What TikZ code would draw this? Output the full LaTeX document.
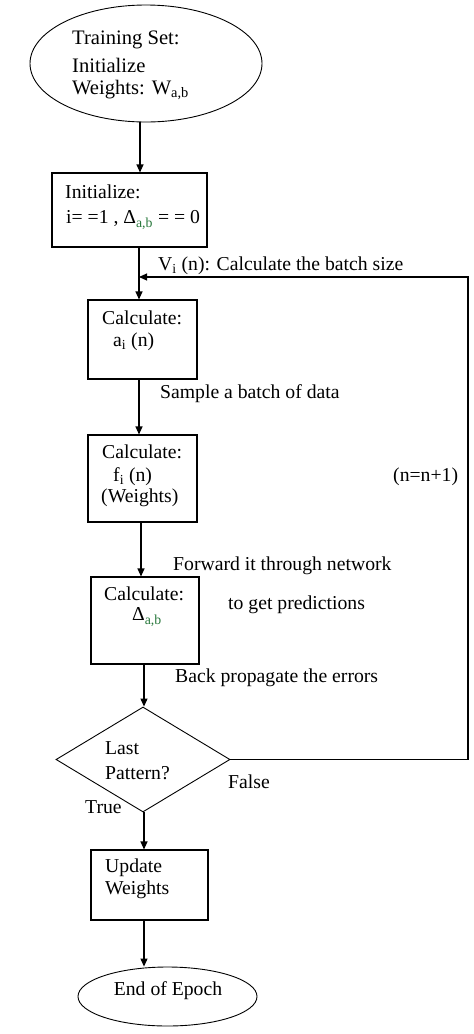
\documentclass[tikz,border=0pt]{standalone}
\usepackage{fontspec}
\setmainfont{Liberation Serif}
\usetikzlibrary{shapes.geometric,arrows.meta}
\definecolor{subgreen}{RGB}{40,120,60}
\tikzset{
  boxnode/.style={draw, line width=1.1pt, inner sep=0pt},
  ovalnode/.style={draw, ellipse, line width=0.9pt, inner sep=0pt},
  decnode/.style={draw, diamond, line width=0.9pt, inner sep=0pt},
  txt/.style={anchor=west, inner sep=0pt},
  bigtxt/.style={txt, font=\fontsize{20.6}{24}\selectfont},
  arr/.style={line width=1.1pt, -{Triangle[length=8pt,width=7pt]}},
  loopline/.style={line width=1.4pt}
}
\begin{document}
\begin{tikzpicture}[x=1pt,y=-1pt,font=\fontsize{19.7}{23}\selectfont]
\useasboundingbox (0,0) rectangle (474,1034);
% shapes
\node[ovalnode, minimum width=232pt, minimum height=117pt] (start) at (146,63.5) {};
\node[boxnode, minimum width=155pt, minimum height=74pt] (init) at (129.5,210) {};
\node[boxnode, minimum width=109pt, minimum height=79pt] (c1) at (142.5,339.5) {};
\node[boxnode, minimum width=109pt, minimum height=87pt] (c2) at (142.5,478.5) {};
\node[boxnode, minimum width=108pt, minimum height=87pt] (c3) at (145,620.5) {};
\node[decnode, minimum width=174pt, minimum height=105pt] (dec) at (143,759.5) {};
\node[boxnode, minimum width=117pt, minimum height=70pt] (upd) at (149.5,885) {};
\node[ovalnode, minimum width=179pt, minimum height=59pt] (stop) at (167.5,996.5) {};
% texts in shapes
\node[bigtxt] (t1) at (72,40) {Training Set:};
\node[bigtxt] (t2) at (72,65) {Initialize};
\node[bigtxt] (t3) at (72,90) {Weights: W\textsubscript{a,b}};
\node[txt] (i1) at (65,192) {Initialize:};
\node[txt] (i2) at (66,220) {i= =1 , Δ\textsubscript{\textcolor{subgreen}{a,b}} = = 0};
\node[txt] (c1a) at (102,318) {Calculate:};
\node[txt] (c1b) at (113,342) {a\textsubscript{i} (n)};
\node[txt] (c2a) at (102,452) {Calculate:};
\node[txt] (c2b) at (113,477) {f\textsubscript{i} (n)};
\node[txt] (c2c) at (101,498) {(Weights)};
\node[txt] (c3a) at (104,594) {Calculate:};
\node[txt] (c3b) at (132,617) {Δ\textsubscript{\textcolor{subgreen}{a,b}}};
\node[txt] (d1) at (105,748) {Last};
\node[txt] (d2) at (105,773) {Pattern?};
\node[txt] (u1) at (105,868) {Update};
\node[txt] (u2) at (105,890) {Weights};
\node[inner sep=0pt] (e1) at (168,991) {End of Epoch};
% labels
\node[txt] (l1) at (158,266) {V\textsubscript{i} (n): Calculate the batch size};
\node[txt] (l2) at (160,394) {Sample a batch of data};
\node[txt] (l3) at (393,477) {(n=n+1)};
\node[txt] (l4) at (173,566) {Forward it through network};
\node[txt] (l5) at (228,605) {to get predictions};
\node[txt] (l6) at (175,678) {Back propagate the errors};
\node[txt] (l7) at (228,782) {False};
\node[txt] (l8) at (85,807) {True};
% connector x positions
\coordinate (xa) at (140,0);
\coordinate (xb) at (139,0);
\coordinate (xc) at (141,0);
\coordinate (xd) at (144,0);
\coordinate (join) at (139,277);
\coordinate (rb) at (468,759.5);
\coordinate (rt) at (468,277);
% connectors
\draw[arr] (start.south -| xa) -- (init.north -| xa);
\draw[arr] (init.south -| xb) -- (c1.north -| xb);
\draw[arr] (c1.south -| xb) -- (c2.north -| xb);
\draw[arr] (c2.south -| xc) -- (c3.north -| xc);
\draw[arr] (c3.south -| xd) -- (dec.north -| xd);
\draw[arr] (dec.south -| xd) -- (upd.north -| xd);
\draw[arr] (upd.south -| xd) -- (stop.north -| xd);
\draw[loopline] (dec.east) -- (rb) -- (rt) -- ([xshift=6pt]join);
\draw[arr] (rt) -- (join);
\end{tikzpicture}
\end{document}
